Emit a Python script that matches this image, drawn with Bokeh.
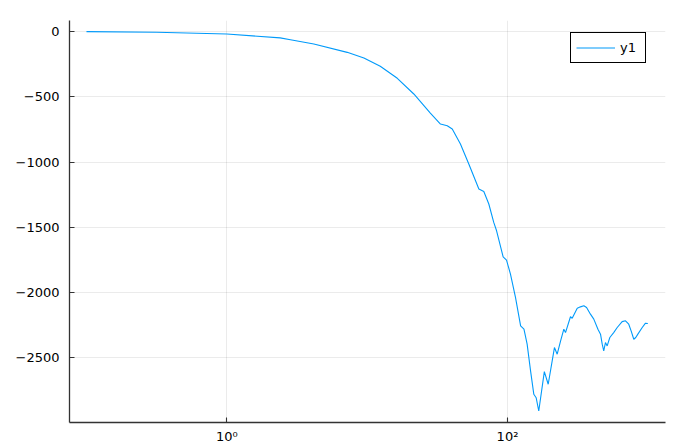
from bokeh.plotting import figure
from bokeh.models import FixedTicker, Legend, LegendItem, Range1d
from bokeh.embed import file_html
from bokeh.resources import INLINE

# data
x_vals = [0.1, 0.316, 1.0, 2.40, 2.84, 4.17, 7.21, 9.48, 12.4, 16.4, 21.5, 28.2,
          33.3, 37.2, 40.4, 46.2, 53.0, 62.5, 67.8, 73.6, 79.8, 83.6, 93.1, 98.4,
          105, 114, 124, 131, 138, 146, 154, 160, 167, 183, 195, 216, 226, 239,
          252, 259, 281, 289, 314, 331, 350, 366, 390, 412, 441, 460, 473, 485,
          499, 513, 536, 571, 605, 656, 693, 731, 760, 794, 820, 849, 912, 962, 1000]
y_vals = [0, -5, -18, -48, -62, -95, -159, -202, -266, -358, -478, -624,
          -708, -721, -746, -861, -1015, -1206, -1225, -1321, -1462, -1526, -1726, -1751,
          -1858, -2037, -2255, -2280, -2395, -2600, -2779, -2805, -2907, -2605, -2702, -2421, -2472, -2370,
          -2280, -2306, -2185, -2196, -2119, -2109, -2101, -2114, -2165, -2203, -2280, -2318, -2395, -2446,
          -2382, -2408, -2344, -2306, -2267, -2222, -2216, -2242, -2293, -2357, -2344, -2318, -2267, -2234, -2237]
series_name = "y1"

x_ticks = [1, 100]
x_tick_labels = {1: "10\u2070", 100: "10\u00b2"}
y_ticks = [0, -500, -1000, -1500, -2000, -2500]
y_tick_labels = {0: "0", -500: "\u2212500", -1000: "\u22121000", -1500: "\u22121500",
                 -2000: "\u22122000", -2500: "\u22122500"}

FONT = "DejaVu Sans"
AXIS_COLOR = "#333333"

p = figure(width=690, height=446, x_axis_type="log", output_backend="svg",
           toolbar_location=None, x_range=Range1d(0.0757, 1336), y_range=Range1d(-2995, 85),
           min_border_left=69, min_border_right=25, min_border_top=20, min_border_bottom=24)
p.outline_line_color = None
p.background_fill_color = "white"
p.border_fill_color = "white"

r = p.line(x_vals, y_vals, line_color="#009AFA", line_width=1.1)

for ax, ticks, labels in ((p.xaxis[0], x_ticks, x_tick_labels), (p.yaxis[0], y_ticks, y_tick_labels)):
    ax.ticker = FixedTicker(ticks=ticks, minor_ticks=[])
    ax.major_label_overrides = labels
    ax.axis_line_color = AXIS_COLOR
    ax.axis_line_width = 1.3
    ax.major_tick_line_color = AXIS_COLOR
    ax.major_tick_line_width = 1.1
    ax.major_tick_in = 5
    ax.major_tick_out = 0
    ax.minor_tick_line_color = None
    ax.major_label_text_font = FONT
    ax.major_label_text_font_size = "13px"
    ax.major_label_text_color = "black"
p.yaxis[0].major_label_standoff = 10
p.xaxis[0].major_label_standoff = 6

p.xgrid.ticker = FixedTicker(ticks=x_ticks)
p.ygrid.ticker = FixedTicker(ticks=y_ticks)
for g in (p.xgrid[0], p.ygrid[0]):
    g.grid_line_color = "black"
    g.grid_line_alpha = 0.08
    g.grid_line_width = 1

legend = Legend(items=[LegendItem(label=series_name, renderers=[r])], location=(501, 359))
legend.border_line_color = "black"
legend.border_line_width = 1
legend.border_line_alpha = 1
legend.background_fill_color = "white"
legend.background_fill_alpha = 1
legend.padding = 5
legend.margin = 0
legend.spacing = 0
legend.glyph_width = 39
legend.glyph_height = 19
legend.label_height = 19
legend.label_standoff = 5
legend.label_text_font = FONT
legend.label_text_font_size = "13px"
legend.label_text_color = "black"
p.add_layout(legend, "center")

open("out.html", "w").write(file_html(p, INLINE))
